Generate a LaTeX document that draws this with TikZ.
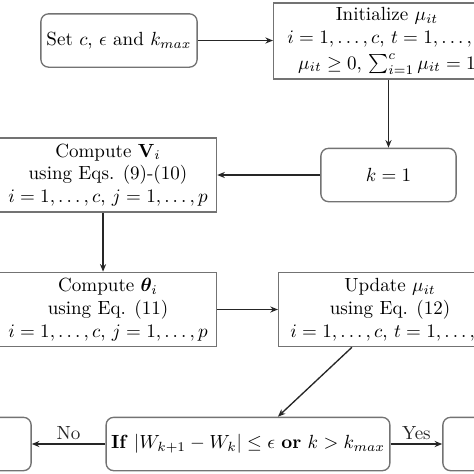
\documentclass[tikz,border=0pt]{standalone}
\usepackage{amsmath,amssymb,bm}
\usepackage{tikz}
\usetikzlibrary{calc,arrows.meta}

\begin{document}
\begin{tikzpicture}[x=0.525pt,y=-0.525pt,
  rbox/.style={draw=black!55,line width=0.7pt,rounded corners=4pt,fill=white,align=center,minimum height=28pt,inner sep=2pt},
  sbox/.style={draw=black!55,line width=0.7pt,fill=white,align=center,minimum height=39pt,inner sep=2pt},
  flow/.style={black!85,line width=0.7pt,-{Stealth[length=4pt,width=3.2pt]}},
  lab/.style={font=\normalsize,inner sep=2pt}]
\useasboundingbox (0,0) rectangle (474,474);
\clip (0,0) rectangle (474,474);
% top row
\node[rbox,minimum width=82pt] (set) at (119,40.5) {Set $c$, $\epsilon$ and $k_{max}$};
\node[sbox,minimum width=119pt,minimum height=40pt] (init) at (387,41) {Initialize $\mu_{it}$\\ $i=1,\ldots,c$, $t=1,\ldots,n$\\[1.5pt] $\mu_{it}\ge 0$, $\sum_{i=1}^{c}\mu_{it}=1$};
% second row
\node[rbox,minimum width=71pt] (k1) at (388.5,175) {$k=1$};
\node[sbox,minimum width=114pt] (compV) at (108,175) {Compute $\mathbf{V}_i$\\ using Eqs. (9)-(10)\\ $i=1,\ldots,c$, $j=1,\ldots,p$};
% third row
\node[sbox,minimum width=114pt] (compT) at (108,309.5) {Compute $\bm{\theta}_i$\\ using Eq. (11)\\ $i=1,\ldots,c$, $j=1,\ldots,p$};
\node[sbox,minimum width=117pt] (update) at (390,309.5) {Update $\mu_{it}$\\ using Eq. (12)\\ $i=1,\ldots,c$, $t=1,\ldots,n$};
% bottom row
\node[rbox,minimum width=149pt] (cond) at (248,444) {\textbf{If} $|W_{k+1}-W_k|\le\epsilon$ \textbf{or} $k>k_{max}$};
\node[rbox,minimum width=71pt] (again) at (-36.5,444) {};
\node[rbox,minimum width=71pt] (stop) at (510.5,444) {};
% connectors
\draw[flow] (set.east) -- (set.east -| init.west);
\draw[flow] (k1.north |- init.south) -- (k1.north);
\draw[flow] (k1.west) -- (compV.east |- k1.west);
\draw[flow] ([xshift=-2.6pt]compV.south) -- ([xshift=-2.6pt]compT.north);
\draw[flow] (compT.east) -- (update.west |- compT.east);
\draw[flow] ($(update.south west)!0.33!(update.south east)$) -- ($(cond.north west)!0.605!(cond.north east)$);
\draw[flow] (cond.west) -- (again.east) node[midway,above,lab] {No};
\draw[flow] (cond.east) -- (stop.west) node[midway,above,lab] {Yes};
\end{tikzpicture}
\end{document}
